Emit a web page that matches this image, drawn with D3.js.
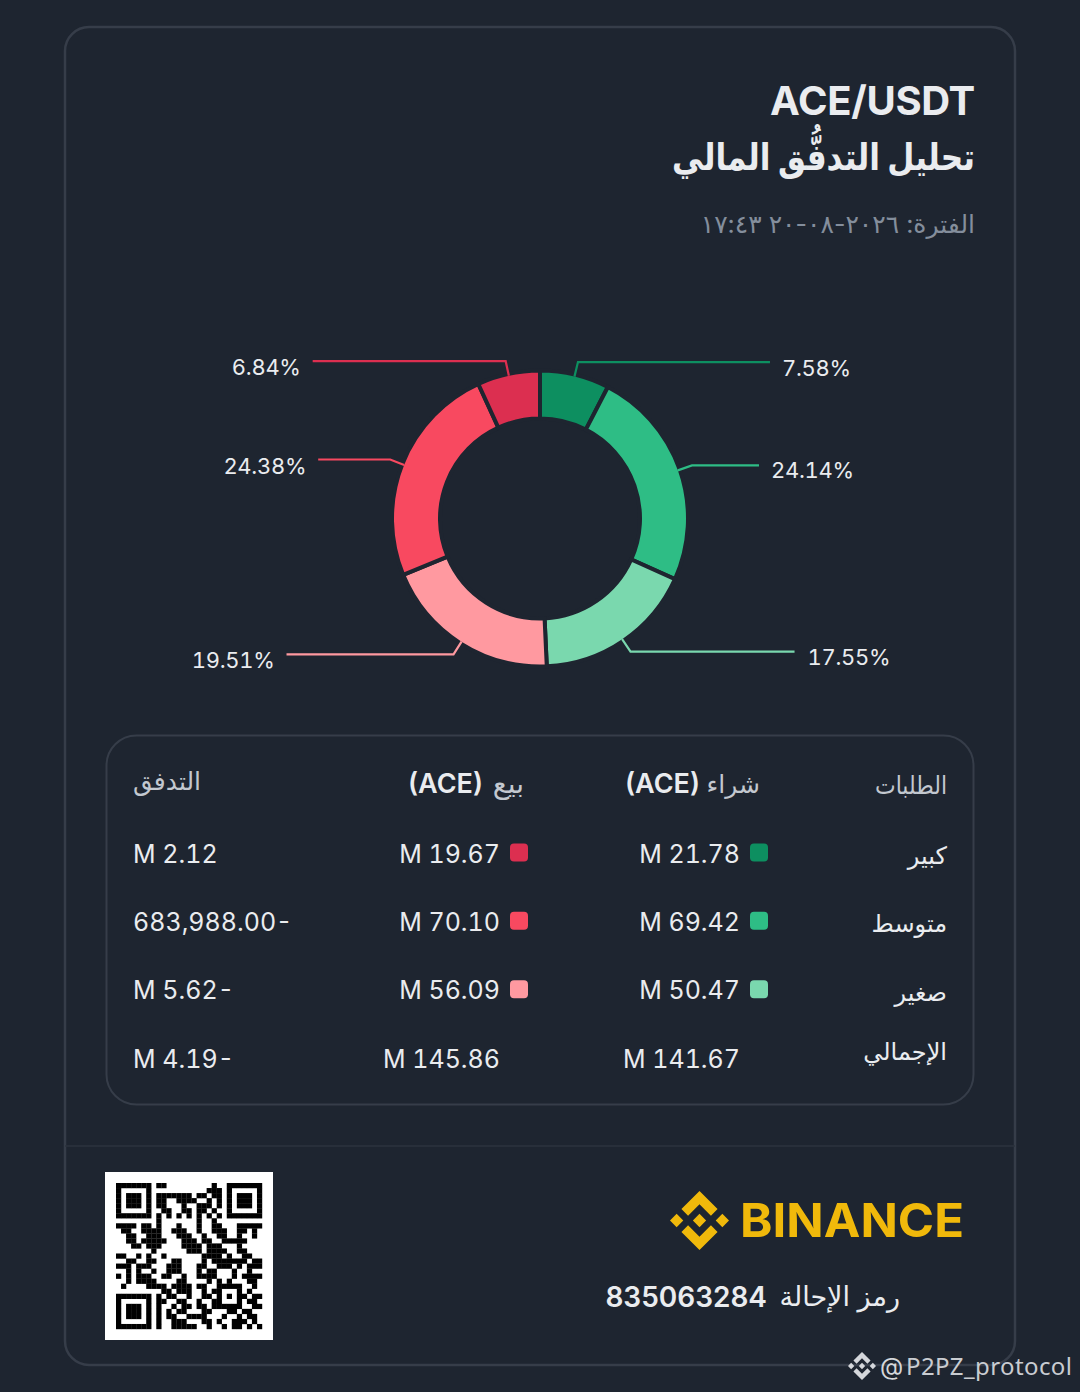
<!DOCTYPE html>
<html>
<head>
<meta charset="utf-8">
<script src="https://cdn.jsdelivr.net/npm/d3@7"></script>
<style>
  html, body { margin: 0; background: #1e2530; }
  svg { display: block; }
  text { font-family: Inter, "DejaVu Sans", sans-serif; }
  .nums { font-variant-numeric: tabular-nums; }
</style>
</head>
<body>
<script>
// chart data
var percents = [7.58, 24.14, 17.55, 19.51, 24.38, 6.84];
var percentLabels = ["7.58%", "24.14%", "17.55%", "19.51%", "24.38%", "6.84%"];
var sliceColors = ["#0d8f60", "#2ebd85", "#7ad8ae", "#ff99a0", "#f84960", "#dc2f50"];

// table data
var rowNames = ["كبير", "متوسط", "صغير", "الإجمالي"];
var buyValues = ["M 21.78", "M 69.42", "M 50.47", "M 141.67"];
var sellValues = ["M 19.67", "M 70.10", "M 56.09", "M 145.86"];
var flowValues = ["M 2.12", "683,988.00-", "M 5.62-", "M 4.19-"];
var buyColors = ["#0d8f60", "#2ebd85", "#7ad8ae"];
var sellColors = ["#dc2f50", "#f84960", "#ff99a0"];

var qrRows = [
  "11111110110000000001001111111",
  "10000010000000000011101000001",
  "10111010111111101101101011101",
  "10111010110011110010101011101",
  "10111010110001001110101011101",
  "10000010011001101101001000001",
  "11111110101010101010101111111",
  "00000000100000001001000000000",
  "11110110100010001001100011111",
  "01100111100111001001110011010",
  "00110011100011100100110010010",
  "00110111110001110110011111000",
  "00011011100001111011100010000",
  "00000001000000111011110011000",
  "11001010010000000111101001100",
  "00110011000110000101111111011",
  "11101110001110001100111010111",
  "00101001001110001011000100100",
  "10101110011001001111000101111",
  "00101111000011000010101000110",
  "01000011110111101100111110010",
  "00000000011011100101100010100",
  "11111110101100100110101011011",
  "10000010110011001001100010110",
  "10111010100101101101111110011",
  "10111010101011000110001101100",
  "10111010101100111100010010110",
  "10000010100111000110100111010",
  "11111110100111110010010110101"
];

var svgWidth = 1080;
var svgHeight = 1392;
var white = "#eaecef";
var grey = "#848e9c";
var line = "#363d49";
var yellow = "#f0b90b";
var bg = "#1e2530";

var svg = d3.select("body").append("svg")
  .attr("width", svgWidth)
  .attr("height", svgHeight);

svg.append("rect").attr("width", svgWidth).attr("height", svgHeight).attr("fill", bg);

// card, table panel and footer divider
svg.append("rect")
  .attr("x", 65).attr("y", 27).attr("width", 950).attr("height", 1338).attr("rx", 24)
  .attr("fill", "none").attr("stroke", line).attr("stroke-width", 2.5);
svg.append("rect")
  .attr("x", 106.5).attr("y", 735.5).attr("width", 867).attr("height", 369).attr("rx", 30)
  .attr("fill", "none").attr("stroke", line).attr("stroke-width", 2);
svg.append("line")
  .attr("x1", 65).attr("x2", 1015).attr("y1", 1146).attr("y2", 1146)
  .attr("stroke", "#2c333e").attr("stroke-width", 1.5);

function rtlText(x, y, str, size, color, weight) {
  return svg.append("text")
    .attr("x", x).attr("y", y)
    .attr("direction", "rtl")
    .attr("text-anchor", "start")
    .attr("font-size", size)
    .attr("font-weight", weight || 400)
    .attr("fill", color)
    .text(str);
}

function ltrText(x, y, str, size, color, anchor, weight) {
  return svg.append("text")
    .attr("x", x).attr("y", y)
    .attr("text-anchor", anchor || "start")
    .attr("font-size", size)
    .attr("font-weight", weight || 400)
    .attr("fill", color)
    .text(str);
}

// squeeze the glyphs to the width they have in the picture
function squeeze(sel, w) {
  return sel.attr("textLength", w).attr("lengthAdjust", "spacingAndGlyphs");
}

// header
ltrText(975, 115, "ACE/USDT", 40, white, "end", 650).style("letter-spacing", "-0.3px");
squeeze(rtlText(975, 170, "تحليل التدفُّق المالي", 37, white, 700), 303);
rtlText(975, 233, "الفترة: ٢٠٢٦-٠٨-٢٠ ١٧:٤٣", 25, grey);

// donut, stroke eats 2px off each edge of the ring
var cx = 540, cy = 518.5, outerR = 148, innerR = 100, edgeR = 146;
var pie = d3.pie().sort(null).value(function(d) { return d; });
var arc = d3.arc().innerRadius(innerR).outerRadius(outerR);
var arcs = pie(percents);

var donut = svg.append("g").attr("transform", "translate(" + cx + "," + cy + ")");
donut.selectAll("path")
  .data(arcs).enter()
  .append("path")
  .attr("d", arc)
  .attr("fill", function(d, i) { return sliceColors[i]; })
  .attr("stroke", bg)
  .attr("stroke-width", 4);

// leader lines: out from the slice middle, then a horizontal tail
var tails = [192, 67, 164, 167, 72, 193];
var labelGap = [12, 12, 13, 12, 12, 12];
var labelDy = [6, 5, 5, 6, 6, 6];
var lineGen = d3.line();

arcs.forEach(function(d, i) {
  var mid = (d.startAngle + d.endAngle) / 2;
  var right = mid < Math.PI;
  var sx = Math.sin(mid), sy = -Math.cos(mid);
  var p1 = [sx * edgeR, sy * edgeR];
  var p2 = [sx * (edgeR + 15), sy * (edgeR + 15)];
  var p3 = [p2[0] + (right ? tails[i] : -tails[i]), p2[1]];
  donut.append("path")
    .attr("d", lineGen([p1, p2, p3]))
    .attr("fill", "none")
    .attr("stroke", sliceColors[i])
    .attr("stroke-width", 2.2);
  ltrText(cx + p3[0] + (right ? labelGap[i] : -labelGap[i]), cy + p3[1] + labelDy[i] + 8,
    percentLabels[i], 22, white, right ? "start" : "end")
    .attr("class", "nums")
    .style("letter-spacing", "-0.3px");
});

// table
var rowY = d3.scalePoint().domain(d3.range(4)).range([862.5, 1067.5]);
var nameY = [864, 932, 1001, 1060];
var valueSize = 25;
var headColor = "#c3c8cf";

squeeze(rtlText(947, 794, "الطلبات", 25, headColor), 72);
rtlText(760, 793, "شراء", 25, headColor);
ltrText(700, 793, "(ACE)", 27, white, "end", 600);
rtlText(524, 793, "بيع", 28, headColor);
ltrText(483, 793, "(ACE)", 27, white, "end", 600);
rtlText(201, 790, "التدفق", 25, headColor);

rowNames.forEach(function(name, i) {
  var y = rowY(i);
  rtlText(947, nameY[i], name, 24, white);
  ltrText(740, y, buyValues[i], valueSize, white, "end").attr("class", "nums");
  ltrText(500, y, sellValues[i], valueSize, white, "end").attr("class", "nums");
  ltrText(133, y, flowValues[i], valueSize, white).attr("class", "nums");
  if (i < 3) {
    svg.append("rect").attr("x", 750).attr("y", y - 19).attr("width", 18).attr("height", 18).attr("rx", 4)
      .attr("fill", buyColors[i]);
    svg.append("rect").attr("x", 510).attr("y", y - 19).attr("width", 18).attr("height", 18).attr("rx", 4)
      .attr("fill", sellColors[i]);
  }
});

// qr code
svg.append("rect").attr("x", 105).attr("y", 1172).attr("width", 168).attr("height", 168).attr("fill", "#fff");
var qrX = d3.scaleBand().domain(d3.range(29)).range([116, 262]);
var qrY = d3.scaleBand().domain(d3.range(29)).range([1183, 1329]);
qrRows.forEach(function(row, r) {
  row.split("").forEach(function(v, c) {
    if (v === "1") {
      svg.append("rect")
        .attr("x", qrX(c)).attr("y", qrY(r))
        .attr("width", qrX.bandwidth() + 0.2).attr("height", qrY.bandwidth() + 0.2)
        .attr("fill", "#000");
    }
  });
});

// binance logo, unit path on a 32 box
var logoPath = "M9.8 13.4 16 7.2l6.2 6.2 3.6-3.6L16 0 6.2 9.8zM0 16l3.6-3.6L7.2 16l-3.6 3.6zM9.8 18.6 16 24.8l6.2-6.2 3.6 3.6L16 32l-9.8-9.8zM24.8 16l3.6-3.6L32 16l-3.6 3.6zM19.6 16 16 12.4 12.4 16 16 19.6z";
function drawLogo(x, y, size, color) {
  svg.append("path")
    .attr("d", logoPath)
    .attr("transform", "translate(" + x + "," + y + ") scale(" + size / 32 + ")")
    .attr("fill", color);
}
drawLogo(670, 1191, 59, yellow);
squeeze(ltrText(740, 1237, "BINANCE", 47, yellow, "start", 700), 224);

// referral
ltrText(767, 1307, "835063284", 28, white, "end", 600);
rtlText(900, 1306, "رمز الإحالة", 27, white);

// watermark
drawLogo(848, 1352, 28, "#d5d7db");
ltrText(880, 1375, "@", 24, "#d5d7db");
ltrText(906, 1375, "P2PZ_protocol", 24, "#c9ccd1")
  .style("font-family", "'Noto Sans'")
  .attr("textLength", 166);
</script>
</body>
</html>
